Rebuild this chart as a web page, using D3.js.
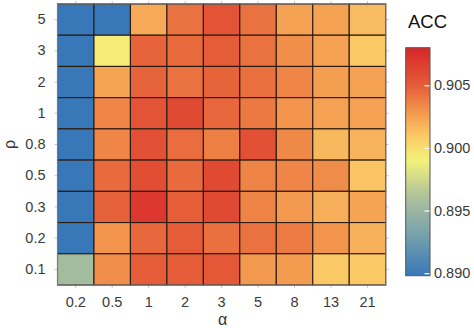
<!DOCTYPE html>
<html>
<head>
<meta charset="utf-8">
<script src="https://cdn.jsdelivr.net/npm/d3@7/dist/d3.min.js"></script>
<style>
  html, body { margin: 0; padding: 0; background: #fff; }
  svg { display: block; font-family: "Liberation Sans", Arial, sans-serif; }
</style>
</head>
<body>
<svg id="chart" width="474" height="328"></svg>
<script>
// Grid categories
const alphas = ["0.2", "0.5", "1", "2", "3", "5", "8", "13", "21"];
const rhos = ["5", "3", "2", "1", "0.8", "0.5", "0.3", "0.2", "0.1"];

// ACC per rho row (top to bottom), columns follow alphas
const acc5   = [0.8898, 0.8898, 0.9022, 0.9042, 0.9055, 0.9042, 0.9025, 0.9025, 0.9015];
const acc3   = [0.8898, 0.8993, 0.9047, 0.9045, 0.9050, 0.9042, 0.9032, 0.9025, 0.9010];
const acc2   = [0.8898, 0.9024, 0.9047, 0.9042, 0.9047, 0.9043, 0.9035, 0.9026, 0.9025];
const acc1   = [0.8898, 0.9035, 0.9055, 0.9060, 0.9046, 0.9040, 0.9030, 0.9025, 0.9025];
const acc08  = [0.8898, 0.9035, 0.9056, 0.9044, 0.9038, 0.9056, 0.9034, 0.9016, 0.9018];
const acc05  = [0.8898, 0.9045, 0.9058, 0.9045, 0.9060, 0.9036, 0.9035, 0.9033, 0.9012];
const acc03  = [0.8898, 0.9048, 0.9070, 0.9049, 0.9060, 0.9036, 0.9028, 0.9020, 0.9024];
const acc02  = [0.8898, 0.9030, 0.9046, 0.9050, 0.9043, 0.9042, 0.9039, 0.9030, 0.9019];
const acc01  = [0.8955, 0.9032, 0.9050, 0.9050, 0.9052, 0.9028, 0.9027, 0.9010, 0.9010];
const accRows = [acc5, acc3, acc2, acc1, acc08, acc05, acc03, acc02, acc01];

// Colour bar
const barTicks = [0.890, 0.895, 0.900, 0.905];
const barRange = [0.8898, 0.9080];
const cmapStops  = [0.8898, 0.8935, 0.8962, 0.8990, 0.9010, 0.9030, 0.9050, 0.9080];
const cmapColors = ["#3878b8", "#7fa6aa", "#b0c29a", "#f3f27a", "#fbc866", "#f2944c", "#e55c38", "#d7262a"];

const svg = d3.select("#chart");

const plot = { left: 57.5, right: 385.7, top: 4, bottom: 285 };

const x = d3.scaleBand().domain(alphas).range([plot.left, plot.right]);
const y = d3.scaleBand().domain(rhos).range([plot.top, plot.bottom]);

const color = d3.scaleLinear()
  .domain(cmapStops)
  .range(cmapColors)
  .interpolate(d3.interpolateRgb)
  .clamp(true);

const cells = [];
rhos.forEach((r, i) => {
  alphas.forEach((a, j) => cells.push({ a, r, v: accRows[i][j] }));
});

// light tick marks around the grid
const tickG = svg.append("g").attr("stroke", "#c8c8c8").attr("stroke-width", 1);
alphas.forEach(a => {
  const cx = x(a) + x.bandwidth() / 2;
  tickG.append("line").attr("x1", cx).attr("x2", cx).attr("y1", plot.bottom).attr("y2", plot.bottom + 3);
  tickG.append("line").attr("x1", cx).attr("x2", cx).attr("y1", plot.top).attr("y2", plot.top - 3);
});
rhos.forEach(r => {
  const cy = y(r) + y.bandwidth() / 2;
  tickG.append("line").attr("x1", plot.left - 3).attr("x2", plot.left).attr("y1", cy).attr("y2", cy);
  tickG.append("line").attr("x1", plot.right).attr("x2", plot.right + 3).attr("y1", cy).attr("y2", cy);
});

// heatmap cells
svg.append("g")
  .selectAll("rect")
  .data(cells)
  .join("rect")
  .attr("x", d => x(d.a))
  .attr("y", d => y(d.r))
  .attr("width", x.bandwidth())
  .attr("height", y.bandwidth())
  .attr("fill", d => color(d.v))
  .attr("stroke", "#2b1a10")
  .attr("stroke-width", 1.1);

// outer frame
svg.append("rect")
  .attr("x", plot.left).attr("y", plot.top)
  .attr("width", plot.right - plot.left).attr("height", plot.bottom - plot.top)
  .attr("fill", "none").attr("stroke", "#7a7a7a").attr("stroke-width", 1);

// axis tick labels
const xAxis = d3.axisBottom(x).tickSize(0).tickPadding(0);
const gx = svg.append("g").attr("transform", `translate(0,${plot.bottom})`).call(xAxis);
gx.select(".domain").remove();
gx.selectAll("text")
  .attr("y", 21.8).attr("dy", null)
  .attr("font-size", 14.5).attr("fill", "#3a3a3a")
  .attr("font-family", "'Liberation Sans', Arial, sans-serif");

const yAxis = d3.axisLeft(y).tickSize(0).tickPadding(0);
const gy = svg.append("g").attr("transform", `translate(${plot.left - 12},0)`).call(yAxis);
gy.select(".domain").remove();
gy.selectAll("text")
  .attr("font-size", 14.5).attr("fill", "#3a3a3a")
  .attr("font-family", "'Liberation Sans', Arial, sans-serif");

// axis titles
svg.append("text")
  .attr("x", (plot.left + plot.right) / 2 + 1).attr("y", 324.5)
  .attr("text-anchor", "middle").attr("font-size", 16).attr("fill", "#333")
  .text("α");
svg.append("text")
  .attr("transform", `translate(15,${(plot.top + plot.bottom) / 2}) rotate(-90)`)
  .attr("text-anchor", "middle").attr("font-size", 16).attr("fill", "#333")
  .text("ρ");

// colour bar
const bar = { x: 405.7, w: 24.3, top: 47.7, bottom: 275.7 };
const yBar = d3.scaleLinear().domain(barRange).range([bar.bottom, bar.top]);

const grad = svg.append("defs").append("linearGradient")
  .attr("id", "accGrad").attr("x1", 0).attr("x2", 0).attr("y1", 1).attr("y2", 0);
d3.range(0, 1.0001, 0.02).forEach(t => {
  const v = barRange[0] + t * (barRange[1] - barRange[0]);
  grad.append("stop").attr("offset", t).attr("stop-color", color(v));
});

svg.append("rect")
  .attr("x", bar.x).attr("y", bar.top)
  .attr("width", bar.w).attr("height", bar.bottom - bar.top)
  .attr("fill", "url(#accGrad)")
  .attr("stroke", "#555").attr("stroke-width", 1);

const barAxis = d3.axisRight(yBar).tickValues(barTicks).tickFormat(d3.format(".3f")).tickSize(0).tickPadding(0);
const gb = svg.append("g").attr("transform", `translate(${bar.x + bar.w},0)`).call(barAxis);
gb.select(".domain").remove();
gb.selectAll("text")
  .attr("x", 4)
  .attr("font-size", 14.5).attr("fill", "#3a3a3a")
  .attr("font-family", "'Liberation Sans', Arial, sans-serif");
gb.selectAll(".tick").append("line")
  .attr("x1", -5.5).attr("x2", -0.5)
  .attr("stroke", "#ffffff").attr("stroke-width", 1.2);

svg.append("text")
  .attr("x", 408).attr("y", 28)
  .attr("font-size", 18.5).attr("fill", "#111")
  .text("ACC");
</script>
</body>
</html>
